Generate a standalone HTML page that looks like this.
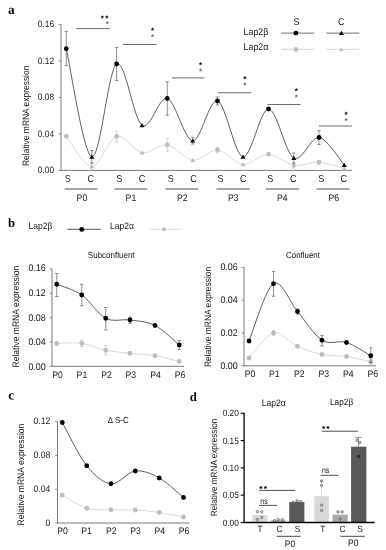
<!DOCTYPE html>
<html><head><meta charset="utf-8"><title>Figure</title>
<style>
html,body{margin:0;padding:0;background:#fff;}
svg{display:block;text-rendering:geometricPrecision;font-family:"Liberation Sans",sans-serif;}
</style></head><body>
<svg width="386" height="550" viewBox="0 0 386 550">
<rect width="386" height="550" fill="#fff"/>
<text transform="translate(8.00 14.10) rotate(0.03)" font-size="13.30" text-anchor="start" fill="#000" font-family='"Liberation Serif", serif' font-weight="bold">a</text>
<text transform="translate(8.00 227.10) rotate(0.03)" font-size="12.80" text-anchor="start" fill="#000" font-family='"Liberation Serif", serif' font-weight="bold">b</text>
<text transform="translate(8.20 399.60) rotate(0.03)" font-size="13.30" text-anchor="start" fill="#000" font-family='"Liberation Serif", serif' font-weight="bold">c</text>
<text transform="translate(189.70 401.00) rotate(0.03)" font-size="12.80" text-anchor="start" fill="#000" font-family='"Liberation Serif", serif' font-weight="bold">d</text>
<line x1="61.00" y1="24.10" x2="61.00" y2="170.90" stroke="#7a7a7a" stroke-width="1"/>
<line x1="60.50" y1="170.40" x2="352.00" y2="170.40" stroke="#7a7a7a" stroke-width="1"/>
<line x1="58.60" y1="170.40" x2="61.00" y2="170.40" stroke="#7a7a7a" stroke-width="0.9"/>
<text transform="translate(54.20 173.25) rotate(0.03) scale(0.9091 1)" font-size="9.24" text-anchor="end" fill="#141414">0.00</text>
<line x1="58.60" y1="133.90" x2="61.00" y2="133.90" stroke="#7a7a7a" stroke-width="0.9"/>
<text transform="translate(54.20 136.75) rotate(0.03) scale(0.9091 1)" font-size="9.24" text-anchor="end" fill="#141414">0.04</text>
<line x1="58.60" y1="97.40" x2="61.00" y2="97.40" stroke="#7a7a7a" stroke-width="0.9"/>
<text transform="translate(54.20 100.25) rotate(0.03) scale(0.9091 1)" font-size="9.24" text-anchor="end" fill="#141414">0.08</text>
<line x1="58.60" y1="60.90" x2="61.00" y2="60.90" stroke="#7a7a7a" stroke-width="0.9"/>
<text transform="translate(54.20 63.75) rotate(0.03) scale(0.9091 1)" font-size="9.24" text-anchor="end" fill="#141414">0.12</text>
<line x1="58.60" y1="24.40" x2="61.00" y2="24.40" stroke="#7a7a7a" stroke-width="0.9"/>
<text transform="translate(54.20 27.25) rotate(0.03) scale(0.9091 1)" font-size="9.24" text-anchor="end" fill="#141414">0.16</text>
<text transform="translate(29.00 115.80) rotate(-89.97) scale(0.9091 1)" font-size="9.29" text-anchor="middle" fill="#141414">Relative mRNA expression</text>
<path d="M66.25,136.25 C70.51,141.28 83.41,166.38 91.80,166.40 C100.19,166.43 108.23,138.68 116.60,136.40 C124.97,134.12 133.56,151.30 142.00,152.70 C150.44,154.10 158.80,143.55 167.25,144.80 C175.70,146.05 184.32,159.33 192.70,160.20 C201.07,161.07 209.12,149.32 217.50,150.00 C225.88,150.68 234.50,163.54 243.00,164.25 C251.50,164.96 260.04,154.08 268.50,154.25 C276.96,154.42 285.33,163.92 293.75,165.25 C302.17,166.58 310.58,161.69 319.00,162.25 C327.42,162.81 340.04,167.54 344.25,168.60" fill="none" stroke="#d2d2d2" stroke-width="0.85"/>
<line x1="91.80" y1="163.50" x2="91.80" y2="169.00" stroke="#bdbdbd" stroke-width="0.6"/>
<line x1="90.10" y1="163.50" x2="93.50" y2="163.50" stroke="#bdbdbd" stroke-width="0.6"/>
<line x1="90.10" y1="169.00" x2="93.50" y2="169.00" stroke="#bdbdbd" stroke-width="0.6"/>
<line x1="116.60" y1="131.40" x2="116.60" y2="141.60" stroke="#bdbdbd" stroke-width="0.6"/>
<line x1="114.90" y1="131.40" x2="118.30" y2="131.40" stroke="#bdbdbd" stroke-width="0.6"/>
<line x1="114.90" y1="141.60" x2="118.30" y2="141.60" stroke="#bdbdbd" stroke-width="0.6"/>
<line x1="167.25" y1="138.50" x2="167.25" y2="151.60" stroke="#bdbdbd" stroke-width="0.6"/>
<line x1="165.55" y1="138.50" x2="168.95" y2="138.50" stroke="#bdbdbd" stroke-width="0.6"/>
<line x1="165.55" y1="151.60" x2="168.95" y2="151.60" stroke="#bdbdbd" stroke-width="0.6"/>
<line x1="217.50" y1="147.30" x2="217.50" y2="152.70" stroke="#bdbdbd" stroke-width="0.6"/>
<line x1="215.80" y1="147.30" x2="219.20" y2="147.30" stroke="#bdbdbd" stroke-width="0.6"/>
<line x1="215.80" y1="152.70" x2="219.20" y2="152.70" stroke="#bdbdbd" stroke-width="0.6"/>
<line x1="293.75" y1="162.50" x2="293.75" y2="168.00" stroke="#bdbdbd" stroke-width="0.6"/>
<line x1="292.05" y1="162.50" x2="295.45" y2="162.50" stroke="#bdbdbd" stroke-width="0.6"/>
<line x1="292.05" y1="168.00" x2="295.45" y2="168.00" stroke="#bdbdbd" stroke-width="0.6"/>
<circle cx="66.25" cy="136.25" r="2.4" fill="#bdbdbd"/>
<path d="M91.80,164.09 L94.30,168.29 L89.30,168.29Z" fill="#bdbdbd"/>
<circle cx="116.60" cy="136.40" r="2.4" fill="#bdbdbd"/>
<path d="M142.00,150.39 L144.50,154.59 L139.50,154.59Z" fill="#bdbdbd"/>
<circle cx="167.25" cy="144.80" r="2.4" fill="#bdbdbd"/>
<path d="M192.70,157.89 L195.20,162.09 L190.20,162.09Z" fill="#bdbdbd"/>
<circle cx="217.50" cy="150.00" r="2.4" fill="#bdbdbd"/>
<path d="M243.00,161.94 L245.50,166.14 L240.50,166.14Z" fill="#bdbdbd"/>
<circle cx="268.50" cy="154.25" r="2.4" fill="#bdbdbd"/>
<path d="M293.75,162.94 L296.25,167.14 L291.25,167.14Z" fill="#bdbdbd"/>
<circle cx="319.00" cy="162.25" r="2.4" fill="#bdbdbd"/>
<path d="M344.25,166.29 L346.75,170.49 L341.75,170.49Z" fill="#bdbdbd"/>
<path d="M66.25,48.75 C70.51,66.75 83.41,154.21 91.80,156.75 C100.19,159.29 108.23,69.24 116.60,64.00 C124.97,58.76 133.56,119.55 142.00,125.30 C150.44,131.05 158.80,95.93 167.25,98.50 C175.70,101.07 184.32,140.28 192.70,140.70 C201.07,141.12 209.12,98.33 217.50,101.00 C225.88,103.67 234.50,155.42 243.00,156.75 C251.50,158.08 260.04,108.79 268.50,109.00 C276.96,109.21 285.33,153.25 293.75,158.00 C302.17,162.75 310.58,136.33 319.00,137.50 C327.42,138.67 340.04,160.42 344.25,165.00" fill="none" stroke="#1a1a1a" stroke-width="0.7"/>
<line x1="66.25" y1="31.50" x2="66.25" y2="65.50" stroke="#555" stroke-width="0.65"/>
<line x1="64.55" y1="31.50" x2="67.95" y2="31.50" stroke="#555" stroke-width="0.65"/>
<line x1="64.55" y1="65.50" x2="67.95" y2="65.50" stroke="#555" stroke-width="0.65"/>
<line x1="91.80" y1="150.50" x2="91.80" y2="163.00" stroke="#555" stroke-width="0.65"/>
<line x1="90.10" y1="150.50" x2="93.50" y2="150.50" stroke="#555" stroke-width="0.65"/>
<line x1="90.10" y1="163.00" x2="93.50" y2="163.00" stroke="#555" stroke-width="0.65"/>
<line x1="116.60" y1="47.50" x2="116.60" y2="80.50" stroke="#555" stroke-width="0.65"/>
<line x1="114.90" y1="47.50" x2="118.30" y2="47.50" stroke="#555" stroke-width="0.65"/>
<line x1="114.90" y1="80.50" x2="118.30" y2="80.50" stroke="#555" stroke-width="0.65"/>
<line x1="167.25" y1="81.75" x2="167.25" y2="115.25" stroke="#555" stroke-width="0.65"/>
<line x1="165.55" y1="81.75" x2="168.95" y2="81.75" stroke="#555" stroke-width="0.65"/>
<line x1="165.55" y1="115.25" x2="168.95" y2="115.25" stroke="#555" stroke-width="0.65"/>
<line x1="192.70" y1="137.40" x2="192.70" y2="144.00" stroke="#555" stroke-width="0.65"/>
<line x1="191.00" y1="137.40" x2="194.40" y2="137.40" stroke="#555" stroke-width="0.65"/>
<line x1="191.00" y1="144.00" x2="194.40" y2="144.00" stroke="#555" stroke-width="0.65"/>
<line x1="217.50" y1="97.00" x2="217.50" y2="105.00" stroke="#555" stroke-width="0.65"/>
<line x1="215.80" y1="97.00" x2="219.20" y2="97.00" stroke="#555" stroke-width="0.65"/>
<line x1="215.80" y1="105.00" x2="219.20" y2="105.00" stroke="#555" stroke-width="0.65"/>
<line x1="293.75" y1="153.00" x2="293.75" y2="163.75" stroke="#555" stroke-width="0.65"/>
<line x1="292.05" y1="153.00" x2="295.45" y2="153.00" stroke="#555" stroke-width="0.65"/>
<line x1="292.05" y1="163.75" x2="295.45" y2="163.75" stroke="#555" stroke-width="0.65"/>
<line x1="319.00" y1="130.50" x2="319.00" y2="144.50" stroke="#555" stroke-width="0.65"/>
<line x1="317.30" y1="130.50" x2="320.70" y2="130.50" stroke="#555" stroke-width="0.65"/>
<line x1="317.30" y1="144.50" x2="320.70" y2="144.50" stroke="#555" stroke-width="0.65"/>
<circle cx="66.25" cy="48.75" r="2.4" fill="#000"/>
<path d="M91.80,154.44 L94.30,158.64 L89.30,158.64Z" fill="#000"/>
<circle cx="116.60" cy="64.00" r="2.4" fill="#000"/>
<path d="M142.00,122.99 L144.50,127.19 L139.50,127.19Z" fill="#000"/>
<circle cx="167.25" cy="98.50" r="2.4" fill="#000"/>
<path d="M192.70,138.39 L195.20,142.59 L190.20,142.59Z" fill="#000"/>
<circle cx="217.50" cy="101.00" r="2.4" fill="#000"/>
<path d="M243.00,154.44 L245.50,158.64 L240.50,158.64Z" fill="#000"/>
<circle cx="268.50" cy="109.00" r="2.4" fill="#000"/>
<path d="M293.75,155.69 L296.25,159.89 L291.25,159.89Z" fill="#000"/>
<circle cx="319.00" cy="137.50" r="2.4" fill="#000"/>
<path d="M344.25,162.69 L346.75,166.89 L341.75,166.89Z" fill="#000"/>
<line x1="76.10" y1="28.60" x2="109.70" y2="28.60" stroke="#6e6e6e" stroke-width="1"/>
<text transform="translate(102.40 20.94) rotate(0.03)" font-size="8.00" text-anchor="middle" fill="#000" font-weight="bold">*</text>
<text transform="translate(106.80 20.94) rotate(0.03)" font-size="8.00" text-anchor="middle" fill="#000" font-weight="bold">*</text>
<text transform="translate(107.20 26.74) rotate(0.03)" font-size="8.00" text-anchor="middle" fill="#6a6a6a" font-weight="bold">*</text>
<line x1="123.00" y1="44.50" x2="156.75" y2="44.50" stroke="#6e6e6e" stroke-width="1"/>
<text transform="translate(152.50 33.24) rotate(0.03)" font-size="8.00" text-anchor="middle" fill="#000" font-weight="bold">*</text>
<text transform="translate(152.50 39.84) rotate(0.03)" font-size="8.00" text-anchor="middle" fill="#6a6a6a" font-weight="bold">*</text>
<line x1="171.75" y1="77.90" x2="204.50" y2="77.90" stroke="#6e6e6e" stroke-width="1"/>
<text transform="translate(200.50 67.84) rotate(0.03)" font-size="8.00" text-anchor="middle" fill="#000" font-weight="bold">*</text>
<text transform="translate(200.50 74.04) rotate(0.03)" font-size="8.00" text-anchor="middle" fill="#6a6a6a" font-weight="bold">*</text>
<line x1="218.00" y1="92.75" x2="251.25" y2="92.75" stroke="#6e6e6e" stroke-width="1"/>
<text transform="translate(244.80 81.64) rotate(0.03)" font-size="8.00" text-anchor="middle" fill="#000" font-weight="bold">*</text>
<text transform="translate(244.80 88.04) rotate(0.03)" font-size="8.00" text-anchor="middle" fill="#6a6a6a" font-weight="bold">*</text>
<line x1="267.50" y1="104.50" x2="300.50" y2="104.50" stroke="#6e6e6e" stroke-width="1"/>
<text transform="translate(296.25 93.74) rotate(0.03)" font-size="8.00" text-anchor="middle" fill="#000" font-weight="bold">*</text>
<text transform="translate(296.25 100.04) rotate(0.03)" font-size="8.00" text-anchor="middle" fill="#6a6a6a" font-weight="bold">*</text>
<line x1="318.75" y1="126.00" x2="352.00" y2="126.00" stroke="#6e6e6e" stroke-width="1"/>
<text transform="translate(346.00 117.14) rotate(0.03)" font-size="8.00" text-anchor="middle" fill="#000" font-weight="bold">*</text>
<text transform="translate(346.00 123.54) rotate(0.03)" font-size="8.00" text-anchor="middle" fill="#6a6a6a" font-weight="bold">*</text>
<text transform="translate(67.90 182.13) rotate(0.03) scale(0.9091 1)" font-size="10.01" text-anchor="middle" fill="#141414">S</text>
<text transform="translate(119.30 182.13) rotate(0.03) scale(0.9091 1)" font-size="10.01" text-anchor="middle" fill="#141414">S</text>
<text transform="translate(170.70 182.13) rotate(0.03) scale(0.9091 1)" font-size="10.01" text-anchor="middle" fill="#141414">S</text>
<text transform="translate(220.50 182.13) rotate(0.03) scale(0.9091 1)" font-size="10.01" text-anchor="middle" fill="#141414">S</text>
<text transform="translate(270.30 182.13) rotate(0.03) scale(0.9091 1)" font-size="10.01" text-anchor="middle" fill="#141414">S</text>
<text transform="translate(321.30 182.13) rotate(0.03) scale(0.9091 1)" font-size="10.01" text-anchor="middle" fill="#141414">S</text>
<text transform="translate(90.70 182.13) rotate(0.03) scale(0.9091 1)" font-size="10.01" text-anchor="middle" fill="#141414">C</text>
<text transform="translate(142.10 182.13) rotate(0.03) scale(0.9091 1)" font-size="10.01" text-anchor="middle" fill="#141414">C</text>
<text transform="translate(193.60 182.13) rotate(0.03) scale(0.9091 1)" font-size="10.01" text-anchor="middle" fill="#141414">C</text>
<text transform="translate(243.40 182.13) rotate(0.03) scale(0.9091 1)" font-size="10.01" text-anchor="middle" fill="#141414">C</text>
<text transform="translate(293.20 182.13) rotate(0.03) scale(0.9091 1)" font-size="10.01" text-anchor="middle" fill="#141414">C</text>
<text transform="translate(343.80 182.13) rotate(0.03) scale(0.9091 1)" font-size="10.01" text-anchor="middle" fill="#141414">C</text>
<line x1="64.60" y1="188.90" x2="97.60" y2="188.90" stroke="#8a8a8a" stroke-width="1.5"/>
<line x1="114.40" y1="188.90" x2="147.40" y2="188.90" stroke="#8a8a8a" stroke-width="1.5"/>
<line x1="165.40" y1="188.90" x2="198.40" y2="188.90" stroke="#8a8a8a" stroke-width="1.5"/>
<line x1="216.50" y1="188.90" x2="249.80" y2="188.90" stroke="#8a8a8a" stroke-width="1.5"/>
<line x1="265.90" y1="188.90" x2="299.20" y2="188.90" stroke="#8a8a8a" stroke-width="1.5"/>
<line x1="316.50" y1="188.90" x2="349.40" y2="188.90" stroke="#8a8a8a" stroke-width="1.5"/>
<text transform="translate(81.90 201.11) rotate(0.03) scale(0.9091 1)" font-size="9.57" text-anchor="middle" fill="#141414">P0</text>
<text transform="translate(130.90 201.11) rotate(0.03) scale(0.9091 1)" font-size="9.57" text-anchor="middle" fill="#141414">P1</text>
<text transform="translate(182.30 201.11) rotate(0.03) scale(0.9091 1)" font-size="9.57" text-anchor="middle" fill="#141414">P2</text>
<text transform="translate(233.30 201.11) rotate(0.03) scale(0.9091 1)" font-size="9.57" text-anchor="middle" fill="#141414">P3</text>
<text transform="translate(282.30 201.11) rotate(0.03) scale(0.9091 1)" font-size="9.57" text-anchor="middle" fill="#141414">P4</text>
<text transform="translate(333.70 201.11) rotate(0.03) scale(0.9091 1)" font-size="9.57" text-anchor="middle" fill="#141414">P6</text>
<text transform="translate(296.40 24.52) rotate(0.03) scale(0.9091 1)" font-size="9.68" text-anchor="middle" fill="#141414">S</text>
<text transform="translate(341.30 24.52) rotate(0.03) scale(0.9091 1)" font-size="9.68" text-anchor="middle" fill="#141414">C</text>
<text transform="translate(243.60 34.62) rotate(0.03) scale(0.9091 1)" font-size="9.68" text-anchor="start" fill="#141414">Lap2β</text>
<text transform="translate(243.60 50.22) rotate(0.03) scale(0.9091 1)" font-size="9.68" text-anchor="start" fill="#141414">Lap2α</text>
<line x1="281.00" y1="33.10" x2="314.30" y2="33.10" stroke="#8c8c8c" stroke-width="1.2"/>
<circle cx="295.90" cy="33.10" r="2.4" fill="#000"/>
<line x1="326.20" y1="33.10" x2="359.30" y2="33.10" stroke="#8c8c8c" stroke-width="1.2"/>
<path d="M341.40,30.79 L343.90,34.99 L338.90,34.99Z" fill="#000"/>
<line x1="281.00" y1="49.40" x2="314.30" y2="49.40" stroke="#dcdcdc" stroke-width="1.1"/>
<circle cx="295.90" cy="49.40" r="2.4" fill="#bdbdbd"/>
<line x1="326.20" y1="49.40" x2="359.30" y2="49.40" stroke="#dcdcdc" stroke-width="1.1"/>
<path d="M341.40,47.20 L343.70,51.20 L339.10,51.20Z" fill="#bdbdbd"/>
<text transform="translate(28.50 229.31) rotate(0.03) scale(0.9091 1)" font-size="9.35" text-anchor="start" fill="#141414">Lap2β</text>
<line x1="67.50" y1="229.40" x2="100.75" y2="229.40" stroke="#777" stroke-width="1.1"/>
<circle cx="81.75" cy="229.40" r="2.4" fill="#000"/>
<text transform="translate(110.00 229.31) rotate(0.03) scale(0.9091 1)" font-size="9.35" text-anchor="start" fill="#141414">Lap2α</text>
<line x1="149.00" y1="229.30" x2="182.60" y2="229.30" stroke="#dcdcdc" stroke-width="1.1"/>
<circle cx="163.90" cy="229.30" r="2.0" fill="#bdbdbd"/>
<line x1="52.00" y1="268.70" x2="52.00" y2="366.80" stroke="#7a7a7a" stroke-width="1"/>
<line x1="51.50" y1="366.30" x2="184.00" y2="366.30" stroke="#7a7a7a" stroke-width="1"/>
<line x1="49.70" y1="366.30" x2="52.00" y2="366.30" stroke="#7a7a7a" stroke-width="0.9"/>
<text transform="translate(45.70 370.12) rotate(0.03) scale(0.9091 1)" font-size="9.74" text-anchor="end" fill="#141414">0.00</text>
<line x1="49.70" y1="341.98" x2="52.00" y2="341.98" stroke="#7a7a7a" stroke-width="0.9"/>
<text transform="translate(45.70 345.46) rotate(0.03) scale(0.9091 1)" font-size="9.74" text-anchor="end" fill="#141414">0.04</text>
<line x1="49.70" y1="317.65" x2="52.00" y2="317.65" stroke="#7a7a7a" stroke-width="0.9"/>
<text transform="translate(45.70 320.81) rotate(0.03) scale(0.9091 1)" font-size="9.74" text-anchor="end" fill="#141414">0.08</text>
<line x1="49.70" y1="293.32" x2="52.00" y2="293.32" stroke="#7a7a7a" stroke-width="0.9"/>
<text transform="translate(45.70 296.15) rotate(0.03) scale(0.9091 1)" font-size="9.74" text-anchor="end" fill="#141414">0.12</text>
<line x1="49.70" y1="269.00" x2="52.00" y2="269.00" stroke="#7a7a7a" stroke-width="0.9"/>
<text transform="translate(45.70 271.50) rotate(0.03) scale(0.9091 1)" font-size="9.74" text-anchor="end" fill="#141414">0.16</text>
<text transform="translate(19.30 316.60) rotate(-89.97) scale(0.9091 1)" font-size="9.44" text-anchor="middle" fill="#141414">Relative mRNA expression</text>
<text transform="translate(111.20 257.69) rotate(0.03) scale(0.9091 1)" font-size="8.80" text-anchor="middle" fill="#141414">Subconfluent</text>
<path d="M56.75,343.50 C60.92,343.46 73.58,342.12 81.75,343.25 C89.92,344.38 97.71,348.58 105.75,350.25 C113.79,351.92 121.79,352.33 130.00,353.25 C138.21,354.17 146.79,354.38 155.00,355.75 C163.21,357.12 175.21,360.54 179.25,361.50" fill="none" stroke="#d2d2d2" stroke-width="0.85"/>
<line x1="81.75" y1="340.00" x2="81.75" y2="346.50" stroke="#bdbdbd" stroke-width="0.6"/>
<line x1="80.05" y1="340.00" x2="83.45" y2="340.00" stroke="#bdbdbd" stroke-width="0.6"/>
<line x1="80.05" y1="346.50" x2="83.45" y2="346.50" stroke="#bdbdbd" stroke-width="0.6"/>
<line x1="105.75" y1="345.50" x2="105.75" y2="355.00" stroke="#bdbdbd" stroke-width="0.6"/>
<line x1="104.05" y1="345.50" x2="107.45" y2="345.50" stroke="#bdbdbd" stroke-width="0.6"/>
<line x1="104.05" y1="355.00" x2="107.45" y2="355.00" stroke="#bdbdbd" stroke-width="0.6"/>
<line x1="130.00" y1="351.50" x2="130.00" y2="355.00" stroke="#bdbdbd" stroke-width="0.6"/>
<line x1="128.30" y1="351.50" x2="131.70" y2="351.50" stroke="#bdbdbd" stroke-width="0.6"/>
<line x1="128.30" y1="355.00" x2="131.70" y2="355.00" stroke="#bdbdbd" stroke-width="0.6"/>
<circle cx="56.75" cy="343.50" r="2.4" fill="#bdbdbd"/>
<circle cx="81.75" cy="343.25" r="2.4" fill="#bdbdbd"/>
<circle cx="105.75" cy="350.25" r="2.4" fill="#bdbdbd"/>
<circle cx="130.00" cy="353.25" r="2.4" fill="#bdbdbd"/>
<circle cx="155.00" cy="355.75" r="2.4" fill="#bdbdbd"/>
<circle cx="179.25" cy="361.50" r="2.4" fill="#bdbdbd"/>
<path d="M56.75,284.25 C60.92,286.04 73.58,289.33 81.75,295.00 C89.92,300.67 97.71,314.08 105.75,318.25 C113.79,322.42 121.79,318.79 130.00,320.00 C138.21,321.21 146.79,321.33 155.00,325.50 C163.21,329.67 175.21,341.75 179.25,345.00" fill="none" stroke="#1a1a1a" stroke-width="0.7"/>
<line x1="56.75" y1="273.50" x2="56.75" y2="296.50" stroke="#555" stroke-width="0.65"/>
<line x1="55.05" y1="273.50" x2="58.45" y2="273.50" stroke="#555" stroke-width="0.65"/>
<line x1="55.05" y1="296.50" x2="58.45" y2="296.50" stroke="#555" stroke-width="0.65"/>
<line x1="81.75" y1="284.25" x2="81.75" y2="305.75" stroke="#555" stroke-width="0.65"/>
<line x1="80.05" y1="284.25" x2="83.45" y2="284.25" stroke="#555" stroke-width="0.65"/>
<line x1="80.05" y1="305.75" x2="83.45" y2="305.75" stroke="#555" stroke-width="0.65"/>
<line x1="105.75" y1="307.50" x2="105.75" y2="330.00" stroke="#555" stroke-width="0.65"/>
<line x1="104.05" y1="307.50" x2="107.45" y2="307.50" stroke="#555" stroke-width="0.65"/>
<line x1="104.05" y1="330.00" x2="107.45" y2="330.00" stroke="#555" stroke-width="0.65"/>
<line x1="130.00" y1="317.00" x2="130.00" y2="323.25" stroke="#555" stroke-width="0.65"/>
<line x1="128.30" y1="317.00" x2="131.70" y2="317.00" stroke="#555" stroke-width="0.65"/>
<line x1="128.30" y1="323.25" x2="131.70" y2="323.25" stroke="#555" stroke-width="0.65"/>
<line x1="179.25" y1="340.50" x2="179.25" y2="349.50" stroke="#555" stroke-width="0.65"/>
<line x1="177.55" y1="340.50" x2="180.95" y2="340.50" stroke="#555" stroke-width="0.65"/>
<line x1="177.55" y1="349.50" x2="180.95" y2="349.50" stroke="#555" stroke-width="0.65"/>
<circle cx="56.75" cy="284.25" r="2.4" fill="#000"/>
<circle cx="81.75" cy="295.00" r="2.4" fill="#000"/>
<circle cx="105.75" cy="318.25" r="2.4" fill="#000"/>
<circle cx="130.00" cy="320.00" r="2.4" fill="#000"/>
<circle cx="155.00" cy="325.50" r="2.4" fill="#000"/>
<circle cx="179.25" cy="345.00" r="2.4" fill="#000"/>
<text transform="translate(57.50 378.31) rotate(0.03) scale(0.9091 1)" font-size="9.57" text-anchor="middle" fill="#141414">P0</text>
<text transform="translate(81.90 378.31) rotate(0.03) scale(0.9091 1)" font-size="9.57" text-anchor="middle" fill="#141414">P1</text>
<text transform="translate(106.50 378.31) rotate(0.03) scale(0.9091 1)" font-size="9.57" text-anchor="middle" fill="#141414">P2</text>
<text transform="translate(130.80 378.31) rotate(0.03) scale(0.9091 1)" font-size="9.57" text-anchor="middle" fill="#141414">P3</text>
<text transform="translate(155.50 378.31) rotate(0.03) scale(0.9091 1)" font-size="9.57" text-anchor="middle" fill="#141414">P4</text>
<text transform="translate(180.00 378.31) rotate(0.03) scale(0.9091 1)" font-size="9.57" text-anchor="middle" fill="#141414">P6</text>
<line x1="244.00" y1="267.20" x2="244.00" y2="366.30" stroke="#7a7a7a" stroke-width="1"/>
<line x1="243.50" y1="365.80" x2="376.00" y2="365.80" stroke="#7a7a7a" stroke-width="1"/>
<line x1="241.70" y1="365.80" x2="244.00" y2="365.80" stroke="#7a7a7a" stroke-width="0.9"/>
<text transform="translate(237.70 368.62) rotate(0.03) scale(0.9091 1)" font-size="9.74" text-anchor="end" fill="#141414">0.00</text>
<line x1="241.70" y1="333.03" x2="244.00" y2="333.03" stroke="#7a7a7a" stroke-width="0.9"/>
<text transform="translate(237.70 335.85) rotate(0.03) scale(0.9091 1)" font-size="9.74" text-anchor="end" fill="#141414">0.02</text>
<line x1="241.70" y1="300.27" x2="244.00" y2="300.27" stroke="#7a7a7a" stroke-width="0.9"/>
<text transform="translate(237.70 303.09) rotate(0.03) scale(0.9091 1)" font-size="9.74" text-anchor="end" fill="#141414">0.04</text>
<line x1="241.70" y1="267.50" x2="244.00" y2="267.50" stroke="#7a7a7a" stroke-width="0.9"/>
<text transform="translate(237.70 270.32) rotate(0.03) scale(0.9091 1)" font-size="9.74" text-anchor="end" fill="#141414">0.06</text>
<text transform="translate(211.30 316.90) rotate(-89.97) scale(0.9091 1)" font-size="9.27" text-anchor="middle" fill="#141414">Relative mRNA expression</text>
<text transform="translate(303.00 258.08) rotate(0.03) scale(0.9091 1)" font-size="8.69" text-anchor="middle" fill="#141414">Confluent</text>
<path d="M249.00,358.00 C253.08,353.83 265.42,334.96 273.50,333.00 C281.58,331.04 289.42,342.67 297.50,346.25 C305.58,349.83 313.83,352.79 322.00,354.50 C330.17,356.21 338.38,355.29 346.50,356.50 C354.62,357.71 366.71,360.88 370.75,361.75" fill="none" stroke="#d2d2d2" stroke-width="0.85"/>
<line x1="273.50" y1="330.50" x2="273.50" y2="335.50" stroke="#bdbdbd" stroke-width="0.6"/>
<line x1="271.80" y1="330.50" x2="275.20" y2="330.50" stroke="#bdbdbd" stroke-width="0.6"/>
<line x1="271.80" y1="335.50" x2="275.20" y2="335.50" stroke="#bdbdbd" stroke-width="0.6"/>
<line x1="370.75" y1="358.00" x2="370.75" y2="364.50" stroke="#bdbdbd" stroke-width="0.6"/>
<line x1="369.05" y1="358.00" x2="372.45" y2="358.00" stroke="#bdbdbd" stroke-width="0.6"/>
<line x1="369.05" y1="364.50" x2="372.45" y2="364.50" stroke="#bdbdbd" stroke-width="0.6"/>
<circle cx="249.00" cy="358.00" r="2.4" fill="#bdbdbd"/>
<circle cx="273.50" cy="333.00" r="2.4" fill="#bdbdbd"/>
<circle cx="297.50" cy="346.25" r="2.4" fill="#bdbdbd"/>
<circle cx="322.00" cy="354.50" r="2.4" fill="#bdbdbd"/>
<circle cx="346.50" cy="356.50" r="2.4" fill="#bdbdbd"/>
<circle cx="370.75" cy="361.75" r="2.4" fill="#bdbdbd"/>
<path d="M249.00,341.00 C253.08,331.46 265.42,288.67 273.50,283.75 C281.58,278.83 289.42,302.08 297.50,311.50 C305.58,320.92 313.83,335.08 322.00,340.25 C330.17,345.42 338.38,339.92 346.50,342.50 C354.62,345.08 366.71,353.54 370.75,355.75" fill="none" stroke="#1a1a1a" stroke-width="0.7"/>
<line x1="273.50" y1="271.50" x2="273.50" y2="296.25" stroke="#555" stroke-width="0.65"/>
<line x1="271.80" y1="271.50" x2="275.20" y2="271.50" stroke="#555" stroke-width="0.65"/>
<line x1="271.80" y1="296.25" x2="275.20" y2="296.25" stroke="#555" stroke-width="0.65"/>
<line x1="297.50" y1="309.00" x2="297.50" y2="314.00" stroke="#555" stroke-width="0.65"/>
<line x1="295.80" y1="309.00" x2="299.20" y2="309.00" stroke="#555" stroke-width="0.65"/>
<line x1="295.80" y1="314.00" x2="299.20" y2="314.00" stroke="#555" stroke-width="0.65"/>
<line x1="322.00" y1="335.50" x2="322.00" y2="346.00" stroke="#555" stroke-width="0.65"/>
<line x1="320.30" y1="335.50" x2="323.70" y2="335.50" stroke="#555" stroke-width="0.65"/>
<line x1="320.30" y1="346.00" x2="323.70" y2="346.00" stroke="#555" stroke-width="0.65"/>
<line x1="370.75" y1="347.75" x2="370.75" y2="362.50" stroke="#555" stroke-width="0.65"/>
<line x1="369.05" y1="347.75" x2="372.45" y2="347.75" stroke="#555" stroke-width="0.65"/>
<line x1="369.05" y1="362.50" x2="372.45" y2="362.50" stroke="#555" stroke-width="0.65"/>
<circle cx="249.00" cy="341.00" r="2.4" fill="#000"/>
<circle cx="273.50" cy="283.75" r="2.4" fill="#000"/>
<circle cx="297.50" cy="311.50" r="2.4" fill="#000"/>
<circle cx="322.00" cy="340.25" r="2.4" fill="#000"/>
<circle cx="346.50" cy="342.50" r="2.4" fill="#000"/>
<circle cx="370.75" cy="355.75" r="2.4" fill="#000"/>
<text transform="translate(250.00 376.71) rotate(0.03) scale(0.9091 1)" font-size="9.57" text-anchor="middle" fill="#141414">P0</text>
<text transform="translate(274.25 376.71) rotate(0.03) scale(0.9091 1)" font-size="9.57" text-anchor="middle" fill="#141414">P1</text>
<text transform="translate(299.25 376.71) rotate(0.03) scale(0.9091 1)" font-size="9.57" text-anchor="middle" fill="#141414">P2</text>
<text transform="translate(323.75 376.71) rotate(0.03) scale(0.9091 1)" font-size="9.57" text-anchor="middle" fill="#141414">P3</text>
<text transform="translate(348.25 376.71) rotate(0.03) scale(0.9091 1)" font-size="9.57" text-anchor="middle" fill="#141414">P4</text>
<text transform="translate(372.75 376.71) rotate(0.03) scale(0.9091 1)" font-size="9.57" text-anchor="middle" fill="#141414">P6</text>
<line x1="57.50" y1="421.45" x2="57.50" y2="523.50" stroke="#7a7a7a" stroke-width="1"/>
<line x1="57.00" y1="523.00" x2="189.50" y2="523.00" stroke="#7a7a7a" stroke-width="1"/>
<line x1="55.20" y1="523.00" x2="57.50" y2="523.00" stroke="#7a7a7a" stroke-width="0.9"/>
<text transform="translate(50.30 526.31) rotate(0.03) scale(0.9091 1)" font-size="9.46" text-anchor="end" fill="#141414">0</text>
<line x1="55.20" y1="489.25" x2="57.50" y2="489.25" stroke="#7a7a7a" stroke-width="0.9"/>
<text transform="translate(50.30 491.66) rotate(0.03) scale(0.9091 1)" font-size="9.46" text-anchor="end" fill="#141414">0.04</text>
<line x1="55.20" y1="455.50" x2="57.50" y2="455.50" stroke="#7a7a7a" stroke-width="0.9"/>
<text transform="translate(50.30 457.91) rotate(0.03) scale(0.9091 1)" font-size="9.46" text-anchor="end" fill="#141414">0.08</text>
<line x1="55.20" y1="421.75" x2="57.50" y2="421.75" stroke="#7a7a7a" stroke-width="0.9"/>
<text transform="translate(50.30 424.16) rotate(0.03) scale(0.9091 1)" font-size="9.46" text-anchor="end" fill="#141414">0.12</text>
<text transform="translate(24.10 474.60) rotate(-89.97) scale(0.9091 1)" font-size="9.44" text-anchor="middle" fill="#141414">Relative mRNA expression</text>
<text transform="translate(118.20 423.49) rotate(0.03) scale(0.9091 1)" font-size="8.80" text-anchor="middle" fill="#141414">Δ S-C</text>
<path d="M62.25,495.00 C66.33,497.21 78.62,505.79 86.75,508.25 C94.88,510.71 102.92,509.46 111.00,509.75 C119.08,510.04 127.21,509.54 135.25,510.00 C143.29,510.46 151.21,511.33 159.25,512.50 C167.29,513.67 179.46,516.25 183.50,517.00" fill="none" stroke="#d2d2d2" stroke-width="0.85"/>
<circle cx="62.25" cy="495.00" r="2.4" fill="#bdbdbd"/>
<circle cx="86.75" cy="508.25" r="2.4" fill="#bdbdbd"/>
<circle cx="111.00" cy="509.75" r="2.4" fill="#bdbdbd"/>
<circle cx="135.25" cy="510.00" r="2.4" fill="#bdbdbd"/>
<circle cx="159.25" cy="512.50" r="2.4" fill="#bdbdbd"/>
<circle cx="183.50" cy="517.00" r="2.4" fill="#bdbdbd"/>
<path d="M62.25,422.50 C66.33,429.71 78.62,455.54 86.75,465.75 C94.88,475.96 102.92,482.88 111.00,483.75 C119.08,484.62 127.21,471.96 135.25,471.00 C143.29,470.04 151.21,473.58 159.25,478.00 C167.29,482.42 179.46,494.25 183.50,497.50" fill="none" stroke="#1a1a1a" stroke-width="0.7"/>
<circle cx="62.25" cy="422.50" r="2.4" fill="#000"/>
<circle cx="86.75" cy="465.75" r="2.4" fill="#000"/>
<circle cx="111.00" cy="483.75" r="2.4" fill="#000"/>
<circle cx="135.25" cy="471.00" r="2.4" fill="#000"/>
<circle cx="159.25" cy="478.00" r="2.4" fill="#000"/>
<circle cx="183.50" cy="497.50" r="2.4" fill="#000"/>
<text transform="translate(62.50 533.71) rotate(0.03) scale(0.9091 1)" font-size="9.57" text-anchor="middle" fill="#141414">P0</text>
<text transform="translate(86.50 533.71) rotate(0.03) scale(0.9091 1)" font-size="9.57" text-anchor="middle" fill="#141414">P1</text>
<text transform="translate(111.30 533.71) rotate(0.03) scale(0.9091 1)" font-size="9.57" text-anchor="middle" fill="#141414">P2</text>
<text transform="translate(135.50 533.71) rotate(0.03) scale(0.9091 1)" font-size="9.57" text-anchor="middle" fill="#141414">P3</text>
<text transform="translate(159.80 533.71) rotate(0.03) scale(0.9091 1)" font-size="9.57" text-anchor="middle" fill="#141414">P4</text>
<text transform="translate(184.00 533.71) rotate(0.03) scale(0.9091 1)" font-size="9.57" text-anchor="middle" fill="#141414">P6</text>
<rect x="252.30" y="515.00" width="15.30" height="7.50" fill="#d9d9d9"/>
<rect x="270.80" y="520.40" width="14.90" height="2.10" fill="#a9a9a9"/>
<rect x="289.25" y="502.10" width="15.15" height="20.40" fill="#595959"/>
<rect x="314.30" y="496.10" width="14.70" height="26.40" fill="#d9d9d9"/>
<rect x="332.50" y="514.60" width="15.30" height="7.90" fill="#a9a9a9"/>
<rect x="351.10" y="446.70" width="15.30" height="75.80" fill="#595959"/>
<line x1="321.60" y1="480.30" x2="321.60" y2="496.10" stroke="#c9c9c9" stroke-width="0.7"/>
<line x1="358.50" y1="437.40" x2="358.50" y2="446.70" stroke="#666" stroke-width="0.7"/>
<line x1="355.20" y1="437.40" x2="361.90" y2="437.40" stroke="#666" stroke-width="0.7"/>
<circle cx="257.35" cy="511.80" r="1.2" fill="#999" fill-opacity="0.35" stroke="#666" stroke-width="0.8"/>
<circle cx="261.80" cy="511.80" r="1.2" fill="#999" fill-opacity="0.35" stroke="#666" stroke-width="0.8"/>
<circle cx="257.35" cy="519.30" r="1.2" fill="#999" fill-opacity="0.35" stroke="#666" stroke-width="0.8"/>
<circle cx="261.80" cy="517.60" r="1.2" fill="#999" fill-opacity="0.35" stroke="#666" stroke-width="0.8"/>
<circle cx="274.50" cy="520.60" r="1.2" fill="#999" fill-opacity="0.35" stroke="#666" stroke-width="0.8"/>
<circle cx="278.20" cy="519.60" r="1.2" fill="#999" fill-opacity="0.35" stroke="#666" stroke-width="0.8"/>
<circle cx="282.40" cy="519.80" r="1.2" fill="#999" fill-opacity="0.35" stroke="#666" stroke-width="0.8"/>
<circle cx="293.20" cy="502.40" r="1.2" fill="#999" fill-opacity="0.35" stroke="#555" stroke-width="0.8"/>
<circle cx="297.00" cy="500.90" r="1.2" fill="#999" fill-opacity="0.35" stroke="#555" stroke-width="0.8"/>
<circle cx="300.60" cy="501.60" r="1.2" fill="#999" fill-opacity="0.35" stroke="#555" stroke-width="0.8"/>
<circle cx="321.60" cy="481.00" r="1.2" fill="#999" fill-opacity="0.35" stroke="#666" stroke-width="0.8"/>
<circle cx="321.60" cy="485.50" r="1.2" fill="#999" fill-opacity="0.35" stroke="#666" stroke-width="0.8"/>
<circle cx="321.60" cy="505.20" r="1.2" fill="#999" fill-opacity="0.35" stroke="#666" stroke-width="0.8"/>
<circle cx="321.60" cy="510.50" r="1.2" fill="#999" fill-opacity="0.35" stroke="#666" stroke-width="0.8"/>
<circle cx="338.00" cy="511.90" r="1.2" fill="#999" fill-opacity="0.35" stroke="#666" stroke-width="0.8"/>
<circle cx="342.20" cy="511.90" r="1.2" fill="#999" fill-opacity="0.35" stroke="#666" stroke-width="0.8"/>
<circle cx="340.10" cy="519.00" r="1.2" fill="#999" fill-opacity="0.35" stroke="#666" stroke-width="0.8"/>
<circle cx="357.00" cy="440.30" r="1.2" fill="#999" fill-opacity="0.35" stroke="#666" stroke-width="0.8"/>
<circle cx="359.90" cy="442.50" r="1.2" fill="#999" fill-opacity="0.35" stroke="#666" stroke-width="0.8"/>
<circle cx="358.5" cy="456.6" r="1.3" fill="#3a3a3a" stroke="#1a1a1a" stroke-width="0.7"/>
<line x1="244.10" y1="412.65" x2="244.10" y2="523.10" stroke="#000" stroke-width="1.3"/>
<line x1="243.50" y1="522.50" x2="374.50" y2="522.50" stroke="#000" stroke-width="1.3"/>
<line x1="240.70" y1="522.50" x2="244.10" y2="522.50" stroke="#000" stroke-width="1.1"/>
<text transform="translate(238.80 525.70) rotate(0.03) scale(0.9091 1)" font-size="9.13" text-anchor="end" fill="#141414">0.00</text>
<line x1="240.70" y1="495.19" x2="244.10" y2="495.19" stroke="#000" stroke-width="1.1"/>
<text transform="translate(238.80 498.39) rotate(0.03) scale(0.9091 1)" font-size="9.13" text-anchor="end" fill="#141414">0.05</text>
<line x1="240.70" y1="467.88" x2="244.10" y2="467.88" stroke="#000" stroke-width="1.1"/>
<text transform="translate(238.80 471.07) rotate(0.03) scale(0.9091 1)" font-size="9.13" text-anchor="end" fill="#141414">0.10</text>
<line x1="240.70" y1="440.56" x2="244.10" y2="440.56" stroke="#000" stroke-width="1.1"/>
<text transform="translate(238.80 443.76) rotate(0.03) scale(0.9091 1)" font-size="9.13" text-anchor="end" fill="#141414">0.15</text>
<line x1="240.70" y1="413.25" x2="244.10" y2="413.25" stroke="#000" stroke-width="1.1"/>
<text transform="translate(238.80 416.45) rotate(0.03) scale(0.9091 1)" font-size="9.13" text-anchor="end" fill="#141414">0.20</text>
<text transform="translate(217.10 467.40) rotate(-89.97) scale(0.9091 1)" font-size="9.02" text-anchor="middle" fill="#141414">Relative mRNA expression</text>
<text transform="translate(273.80 405.61) rotate(0.03) scale(0.9091 1)" font-size="9.46" text-anchor="middle" fill="#141414">Lap2α</text>
<text transform="translate(341.60 404.90) rotate(0.03) scale(0.9091 1)" font-size="9.13" text-anchor="middle" fill="#141414">Lap2β</text>
<line x1="259.20" y1="490.40" x2="295.00" y2="490.40" stroke="#222" stroke-width="0.8"/>
<text transform="translate(261.00 491.79) rotate(0.03)" font-size="8.50" text-anchor="middle" fill="#000" font-weight="bold">*</text>
<text transform="translate(265.30 491.79) rotate(0.03)" font-size="8.50" text-anchor="middle" fill="#000" font-weight="bold">*</text>
<line x1="259.20" y1="505.40" x2="277.00" y2="505.40" stroke="#222" stroke-width="0.8"/>
<text transform="translate(264.00 503.90) rotate(0.03) scale(0.8333 1)" font-size="8.40" text-anchor="middle" fill="#141414">ns</text>
<line x1="321.90" y1="431.20" x2="358.00" y2="431.20" stroke="#222" stroke-width="0.8"/>
<text transform="translate(323.60 431.79) rotate(0.03)" font-size="8.50" text-anchor="middle" fill="#000" font-weight="bold">*</text>
<text transform="translate(328.00 431.79) rotate(0.03)" font-size="8.50" text-anchor="middle" fill="#000" font-weight="bold">*</text>
<line x1="320.50" y1="475.30" x2="338.40" y2="475.30" stroke="#222" stroke-width="0.8"/>
<text transform="translate(325.60 473.10) rotate(0.03) scale(0.8333 1)" font-size="8.40" text-anchor="middle" fill="#141414">ns</text>
<text transform="translate(260.00 532.00) rotate(0.03) scale(0.9091 1)" font-size="9.13" text-anchor="middle" fill="#141414">T</text>
<text transform="translate(279.50 532.00) rotate(0.03) scale(0.9091 1)" font-size="9.13" text-anchor="middle" fill="#141414">C</text>
<text transform="translate(297.50 532.00) rotate(0.03) scale(0.9091 1)" font-size="9.13" text-anchor="middle" fill="#141414">S</text>
<text transform="translate(322.70 532.00) rotate(0.03) scale(0.9091 1)" font-size="9.13" text-anchor="middle" fill="#141414">T</text>
<text transform="translate(342.50 532.00) rotate(0.03) scale(0.9091 1)" font-size="9.13" text-anchor="middle" fill="#141414">C</text>
<text transform="translate(360.00 532.00) rotate(0.03) scale(0.9091 1)" font-size="9.13" text-anchor="middle" fill="#141414">S</text>
<line x1="276.75" y1="536.30" x2="300.60" y2="536.30" stroke="#333" stroke-width="0.9"/>
<text transform="translate(290.00 546.51) rotate(0.03) scale(0.9091 1)" font-size="9.35" text-anchor="middle" fill="#141414">P0</text>
<line x1="340.50" y1="536.30" x2="364.80" y2="536.30" stroke="#333" stroke-width="0.9"/>
<text transform="translate(353.30 546.31) rotate(0.03) scale(0.9091 1)" font-size="9.35" text-anchor="middle" fill="#141414">P0</text>
</svg></body></html>
